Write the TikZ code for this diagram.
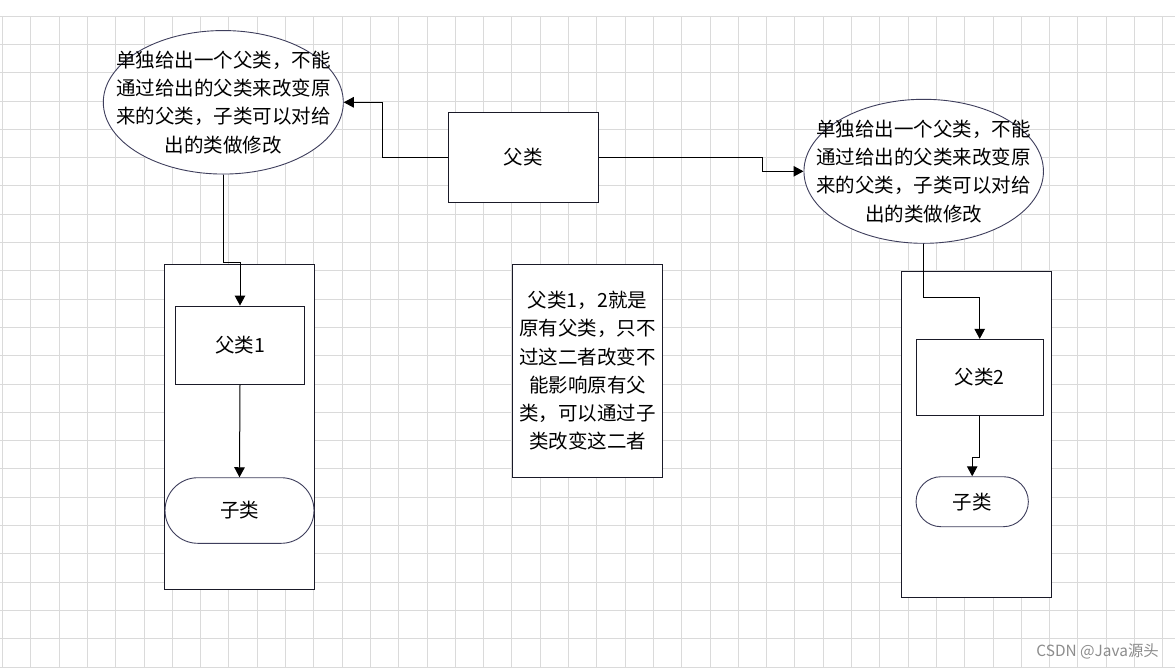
\documentclass[tikz,border=0pt]{standalone}
\usepackage{fontspec}
\setmainfont{Noto Sans CJK SC}
\usetikzlibrary{arrows.meta,shapes.geometric,shapes.misc}
\definecolor{gridgray}{RGB}{218,218,218}
\definecolor{edgeink}{RGB}{26,26,40}
\definecolor{ovalink}{RGB}{62,62,92}
\definecolor{markgray}{RGB}{140,140,140}
\tikzset{
    box/.style={draw=edgeink, line width=1pt, fill=white, inner sep=0pt},
    oval/.style={ellipse, draw=ovalink, line width=0.9pt, fill=white, inner sep=0pt},
    pill/.style={rounded rectangle, draw=ovalink, line width=0.9pt, fill=white, inner sep=0pt},
    words/.style={font=\fontsize{19.5pt}{28.3pt}\selectfont, align=center, inner sep=0pt},
    link/.style={draw=black, line width=1pt, -{Triangle[length=10pt,width=10.5pt]}},
}
\begin{document}
\begin{tikzpicture}[x=1pt, y=-1pt]
            \useasboundingbox[fill=white] (0,0) rectangle (1175,667);
            % grid
            \foreach \i in {0,...,41}
                \draw[gridgray, line width=0.8pt] ({2.4+28.3*\i}, 16) -- ({2.4+28.3*\i}, 667);
            \foreach \j in {0,...,23}
                \draw[gridgray, line width=0.8pt] (0, {16+28.3*\j}) -- (1175, {16+28.3*\j});

            % frames
            \node[box, minimum width=150pt, minimum height=325pt] (frameL) at (239.3, 426.8) {};
            \node[box, minimum width=150pt, minimum height=326pt] (frameR) at (976.7, 434.2) {};

            % top row
            \node[box, minimum width=150pt, minimum height=90pt, words] (parent) at (523.3, 157.3) {父类};
            \node[oval, minimum width=240pt, minimum height=143.5pt] (ellL) at (223.3, 102.3) {};
            \node[words] (ellLtext) at (ellL.center) {单独给出一个父类，不能\\通过给出的父类来改变原\\来的父类，子类可以对给\\出的类做修改};
            \node[oval, minimum width=239.5pt, minimum height=144pt] (ellR) at (923.7, 171.3) {};
            \node[words] (ellRtext) at (ellR.center) {单独给出一个父类，不能\\通过给出的父类来改变原\\来的父类，子类可以对给\\出的类做修改};

            % left column
            \node[box, minimum width=128.6pt, minimum height=78.3pt, words] (parentA) at (240, 345.2) {父类1};
            \node[pill, minimum width=149pt, minimum height=65.6pt, words] (childA) at (239.5, 510.5) {子类};

            % right column
            \node[box, minimum width=127.3pt, minimum height=75.7pt, words] (parentB) at (979.7, 377.2) {父类2};
            \node[pill, minimum width=112.3pt, minimum height=50pt, words] (childB) at (972.2, 501.7) {子类};

            % note
            \node[box, minimum width=149.6pt, minimum height=213pt, words] (note) at (587.5, 370.8) {父类1，2就是\\原有父类，只不\\过这二者改变不\\能影响原有父\\类，可以通过子\\类改变这二者};

            \draw[link] (parent.west) -- ++(-65, 0) |- (ellL.east);
            \draw[link] (parent.east) -- ++(163.4, 0) |- (ellR.west);
            \draw[link] (ellL.south) -- ++(0, 88) -| (parentA.north);
            \draw[link] (parentA.south) -- (childA.north);
            \draw[link] (ellR.south) -- ++(0, 54) -| (parentB.north);
            \draw[link] (parentB.south) -- ++(0, 42.3) -| (childB.north);

            \node[anchor=base east, text=markgray, font=\fontsize{15.4pt}{17pt}\selectfont, inner sep=0pt] (mark) at (1159, 656) {CSDN @Java源头};
        \end{tikzpicture}
\end{document}
